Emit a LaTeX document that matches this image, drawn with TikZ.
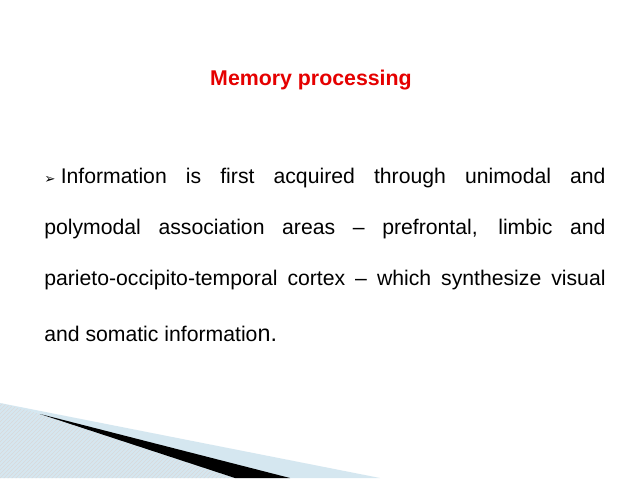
\documentclass[tikz,border=0pt]{standalone}
\usepackage{fontspec}
\setmainfont{Liberation Sans}
\newfontfamily\symfont{DejaVu Sans}
\usetikzlibrary{patterns}
\definecolor{deco}{HTML}{D5E7F0}
\begin{document}
\begin{tikzpicture}[x=0.75pt,y=-0.75pt,
  body/.style={anchor=west,inner sep=0pt,font=\fontsize{15.9pt}{18pt}\selectfont}]
\useasboundingbox (0,0) rectangle (638,478);
\fill[white] (0,0) rectangle (638,478);
% decoration
\fill[deco] (0,403) -- (380,478) -- (0,478) -- cycle;
\fill[pattern=north east lines,pattern color=gray!30] (0,403) -- (40,414) -- (235,478) -- (0,478) -- cycle;
\fill[black] (40,414) -- (290,478) -- (235,478) -- cycle;
\node[font=\bfseries\fontsize{16pt}{18pt}\selectfont,text=red!90!black] (title) at (311,80) {Memory processing};
\node[body] (l1) at (44,178) {\makebox[421pt][s]{{\symfont\fontsize{10pt}{10pt}\selectfont ➢}\hspace{4pt}Information is first acquired through unimodal and}};
\node[body] (l2) at (44,229) {\makebox[421pt][s]{polymodal association areas – prefrontal, limbic and}};
\node[body] (l3) at (44,280) {\makebox[421pt][s]{parieto-occipito-temporal cortex – which synthesize visual}};
\node[body] (l4) at (44,334) {and somatic informatio{\fontsize{17.5pt}{18pt}\selectfont n.}};
\end{tikzpicture}
\end{document}
